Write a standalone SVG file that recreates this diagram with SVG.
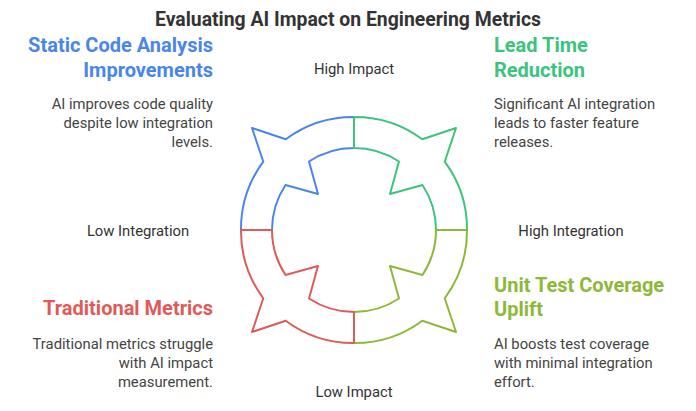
<svg xmlns="http://www.w3.org/2000/svg" width="696" height="411" viewBox="0 0 696 411">
<style>
text{font-family:Roboto,"Liberation Sans",sans-serif}
.t{font-size:19.4px;font-weight:bold;fill:#333}
.h{font-size:20px;font-weight:bold}
.b{font-size:14.8px;fill:#444}
.a{font-size:14.8px;fill:#333;text-anchor:middle}
.r{text-anchor:end}
.q{fill:none;stroke-width:2;stroke-linejoin:round}
</style>
<defs>
<path id="quad" d="M-113,0 A113,113 0 0 1 -90.7,-68.3 L-102,-102 L-68.3,-90.7 A113,113 0 0 1 0,-113 L0,-82 A82,82 0 0 0 -45,-68.5 L-36,-36 L-68.5,-45 A82,82 0 0 0 -82,0 Z"/>
</defs>
<rect width="696" height="411" fill="#fff"/>
<text class="t" x="348" y="26" text-anchor="middle">Evaluating AI Impact on Engineering Metrics</text>
<g id="connectors" transform="translate(354,230)">
<use href="#quad" class="q" stroke="#4a86e8"/>
<use href="#quad" class="q" stroke="#3cc47c" transform="rotate(90)"/>
<use href="#quad" class="q" stroke="#8db83a" transform="rotate(180)"/>
<use href="#quad" class="q" stroke="#e05a5a" transform="rotate(270)"/>
</g>
<g id="static">
<text class="h r" x="213" y="52" fill="#4a86e8">Static Code Analysis</text>
<text class="h r" x="213" y="77" fill="#4a86e8">Improvements</text>
<text class="b r" x="213" y="109">AI improves code quality</text>
<text class="b r" x="213" y="128">despite low integration</text>
<text class="b r" x="213" y="147">levels.</text>
</g>
<g id="lead">
<text class="h" x="494" y="52" fill="#3cc47c">Lead Time</text>
<text class="h" x="494" y="77" fill="#3cc47c">Reduction</text>
<text class="b" x="494" y="109">Significant AI integration</text>
<text class="b" x="494" y="128">leads to faster feature</text>
<text class="b" x="494" y="147">releases.</text>
</g>
<g id="unit">
<text class="h" x="494" y="292" fill="#8db83a">Unit Test Coverage</text>
<text class="h" x="494" y="316" fill="#8db83a">Uplift</text>
<text class="b" x="494" y="349">AI boosts test coverage</text>
<text class="b" x="494" y="368">with minimal integration</text>
<text class="b" x="494" y="387">effort.</text>
</g>
<g id="traditional">
<text class="h r" x="213" y="315" fill="#e05a5a">Traditional Metrics</text>
<text class="b r" x="213" y="349">Traditional metrics struggle</text>
<text class="b r" x="213" y="368">with AI impact</text>
<text class="b r" x="213" y="387">measurement.</text>
</g>
<g id="axes">
<text class="a" x="354" y="74">High Impact</text>
<text class="a" x="354" y="397">Low Impact</text>
<text class="a" x="138" y="236">Low Integration</text>
<text class="a" x="571" y="236">High Integration</text>
</g>
</svg>
